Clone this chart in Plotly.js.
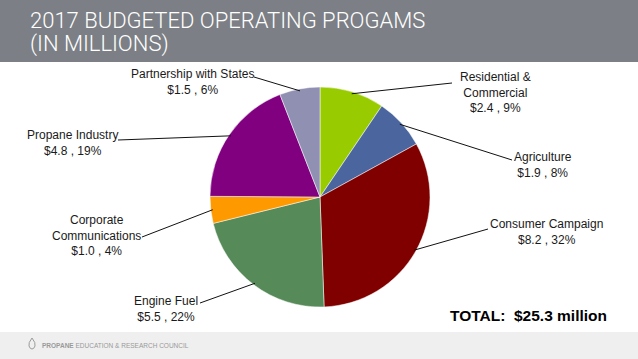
<!DOCTYPE html>
<html>
<head>
<meta charset="utf-8">
<script src="https://cdn.plot.ly/plotly-3.0.1.min.js"></script>
<style>html,body{margin:0;padding:0;background:#fff;}#chart{width:638px;height:359px;}</style>
</head>
<body>
<div id="chart"></div>
<script>
// ---- data ----
const categories = ["Residential &<br>Commercial", "Agriculture", "Consumer Campaign", "Engine Fuel", "Corporate<br>Communications", "Propane Industry", "Partnership with States"];
const values = [2.4, 1.9, 8.2, 5.5, 1.0, 4.8, 1.5];
const percents = [9, 8, 32, 22, 4, 19, 6];
const colors = ["#99cc00", "#4b659f", "#800000", "#568a59", "#ff9900", "#800080", "#9090b2"];
const titleLine1 = "2017 BUDGETED OPERATING PROGAMS";
const titleLine2 = "(IN MILLIONS)";
const totalText = "TOTAL:  $25.3 million";

// ---- layout constants (pixels) ----
const W = 638, H = 359;
const CX = 320, CY = 197, R = 110;
// label centre positions and leader-line label ends
const labelPos = [[495, 93], [543, 165], [546, 232], [166, 309], [96, 235], [72, 143], [192, 82]];
const lineEnd = [[452, 83], [512, 160], [488, 229], [200, 303], [142, 237], [118, 140], [254, 77]];

const px = x => x / W;
const py = y => 1 - y / H;

const total = values.reduce((a, b) => a + b, 0);
const shapes = [
  {type: "rect", xref: "paper", yref: "paper", x0: 0, x1: 1, y0: py(62), y1: 1, fillcolor: "#7c7f85", line: {width: 0}, layer: "below"},
  {type: "rect", xref: "paper", yref: "paper", x0: 0, x1: 1, y0: 0, y1: py(332), fillcolor: "#efefef", line: {width: 0}, layer: "below"},
  {type: "path", xref: "paper", yref: "paper",
   path: `M ${px(32)} ${py(338)} Q ${px(36)} ${py(343)} ${px(35)} ${py(346)} Q ${px(34)} ${py(349)} ${px(32)} ${py(349)} Q ${px(30)} ${py(349)} ${px(29)} ${py(346)} Q ${px(28)} ${py(343)} ${px(32)} ${py(338)} Z`,
   line: {color: "#9a9a9a", width: 1}, fillcolor: "rgba(0,0,0,0)"}
];
const titleFont = {family: "Roboto, Liberation Sans, Arial, sans-serif", size: 22, weight: 300, color: "#ffffff"};
const annotations = [];
let cum = 0;
for (let i = 0; i < values.length; i++) {
  const mid = (cum + values[i] / 2) / total * 2 * Math.PI;
  cum += values[i];
  const tx = CX + (R - 2) * Math.sin(mid);
  const ty = CY - (R - 2) * Math.cos(mid);
  shapes.push({type: "line", xref: "paper", yref: "paper", x0: px(tx), y0: py(ty), x1: px(lineEnd[i][0]), y1: py(lineEnd[i][1]), line: {color: "#111", width: 1}});
  annotations.push({xref: "paper", yref: "paper", x: px(labelPos[i][0]), y: py(labelPos[i][1]), xanchor: "center", yanchor: "middle",
    text: categories[i] + "<br>$" + values[i].toFixed(1) + " , " + percents[i] + "%", showarrow: false, align: "center",
    font: {family: "Liberation Sans, Arial, sans-serif", size: 12, color: "#1a1a1a"}});
}
annotations.push({xref: "paper", yref: "paper", x: px(28), y: py(44), xanchor: "left", yanchor: "middle", text: titleLine2, showarrow: false, font: titleFont});
annotations.push({xref: "paper", yref: "paper", x: px(528), y: py(315), xanchor: "center", yanchor: "middle", text: "<b>" + totalText + "</b>", showarrow: false,
  font: {family: "Liberation Sans, Arial, sans-serif", size: 15.5, color: "#000"}});
annotations.push({xref: "paper", yref: "paper", x: px(40), y: py(345), xanchor: "left", yanchor: "middle", text: "<b>PROPANE</b> EDUCATION &amp; RESEARCH COUNCIL", showarrow: false,
  font: {family: "Liberation Sans, Arial, sans-serif", size: 6.5, color: "#9a9a9a"}});

const trace = {
  type: "pie", labels: categories, values: values, sort: false, direction: "clockwise", rotation: 0,
  marker: {colors: colors, line: {color: "#ffffff", width: 0.5}},
  textinfo: "none", hoverinfo: "none", showlegend: false,
  domain: {x: [px(CX - R), px(CX + R)], y: [py(CY + R), py(CY - R)]}
};

const layout = {
  width: W, height: H, margin: {l: 0, r: 0, t: 0, b: 0},
  paper_bgcolor: "#ffffff", plot_bgcolor: "#ffffff", showlegend: false,
  title: {text: titleLine1, x: px(30), xanchor: "left", xref: "paper", y: py(20), yref: "paper", yanchor: "middle", font: titleFont},
  shapes: shapes, annotations: annotations
};
Plotly.newPlot("chart", [trace], layout, {displayModeBar: false, staticPlot: true});
</script>
</body>
</html>
